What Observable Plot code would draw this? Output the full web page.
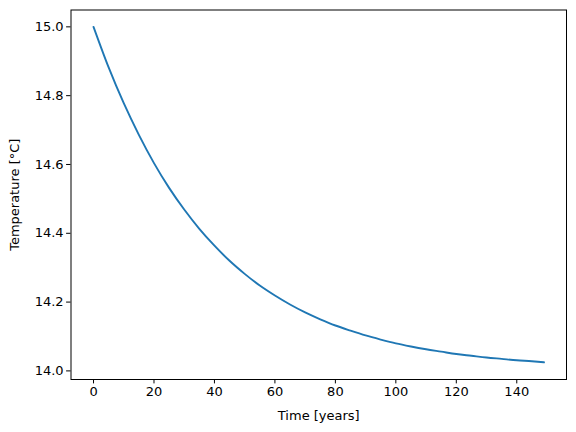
<!DOCTYPE html>
<html>
<head>
<meta charset="utf-8">
<script src="https://cdn.jsdelivr.net/npm/d3@7"></script>
<script src="https://cdn.jsdelivr.net/npm/@observablehq/plot@0.6"></script>
<style>
  html, body { margin: 0; padding: 0; background: #fff; }
  svg { display: block; }
</style>
</head>
<body>
<div id="chart"></div>
<script>
const years = [0, 5, 10, 15, 20, 25, 30, 35, 40, 45, 50, 55, 60, 65, 70, 75, 80, 85, 90, 95, 100, 105, 110, 115, 120, 125, 130, 135, 140, 145, 149];
const temperatures = [15.000, 14.882, 14.778, 14.686, 14.604, 14.532, 14.469, 14.413, 14.364, 14.320, 14.282, 14.248, 14.219, 14.193, 14.170, 14.150, 14.132, 14.117, 14.103, 14.091, 14.080, 14.071, 14.063, 14.056, 14.049, 14.044, 14.039, 14.035, 14.031, 14.028, 14.025];
const xTicks = [0, 20, 40, 60, 80, 100, 120, 140];
const yTicks = [14.0, 14.2, 14.4, 14.6, 14.8, 15.0];

const data = years.map((t, i) => ({t, v: temperatures[i]}));

const chart = Plot.plot({
  width: 576,
  height: 432,
  marginLeft: 70.5,
  marginRight: 10,
  marginTop: 9.5,
  marginBottom: 53,
  style: {fontFamily: "DejaVu Sans", fontSize: "13px", color: "#000", background: "#fff"},
  x: {domain: [-7.45, 156.45]},
  y: {domain: [13.975, 15.049]},
  marks: [
    Plot.frame({stroke: "#000", strokeWidth: 1}),
    Plot.axisX({ticks: xTicks, tickSize: 4.4, tickPadding: 3, tickFormat: d3.format("d"),
      label: "Time [years]", labelAnchor: "center", labelArrow: "none", labelOffset: 40, fontSize: 13}),
    Plot.axisY({ticks: yTicks, tickSize: 4.4, tickPadding: 3, tickFormat: d3.format(".1f"),
      label: "Temperature [°C]", labelAnchor: "center", labelArrow: "none", labelOffset: 61, fontSize: 13}),
    Plot.line(data, {x: "t", y: "v", stroke: "#1f77b4", strokeWidth: 1.9, curve: "monotone-x"})
  ]
});
document.getElementById("chart").appendChild(chart);
</script>
</body>
</html>
